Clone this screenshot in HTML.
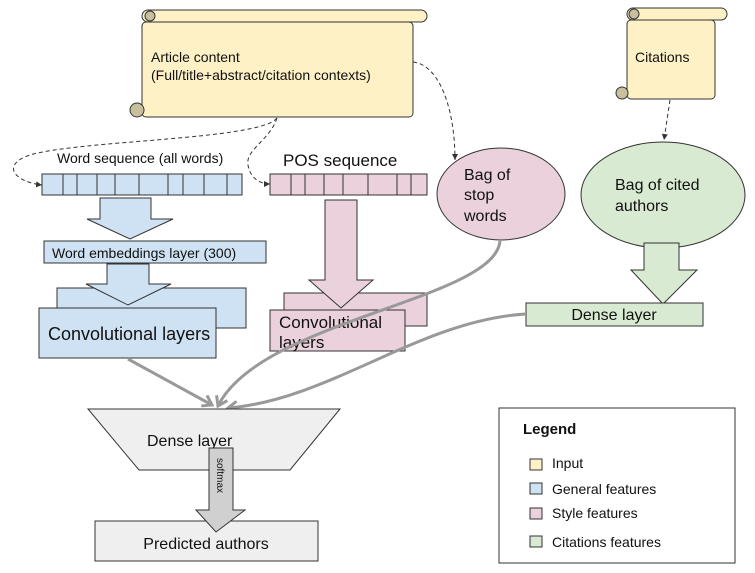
<!DOCTYPE html>
<html><head><meta charset="utf-8"><style>
body{margin:0;background:#fff;width:755px;height:568px;overflow:hidden}
svg text{font-family:"Liberation Sans",Arial,sans-serif;fill:#111}
</style></head><body>
<svg width="755" height="568" viewBox="0 0 755 568" xmlns="http://www.w3.org/2000/svg">
<defs>
<marker id="da" markerWidth="8" markerHeight="8" refX="6" refY="4" orient="auto" markerUnits="userSpaceOnUse"><path d="M0,1 L6,4 L0,7" fill="#333"/></marker>
<marker id="ga" markerWidth="14" markerHeight="14" refX="10" refY="7" orient="auto" markerUnits="userSpaceOnUse"><path d="M1,1 L10,7 L1,13" fill="none" stroke="#999" stroke-width="3"/></marker>
</defs>
<!-- Article scroll -->
<rect x="142" y="22" width="271" height="95" rx="4" fill="#fdf1c5" stroke="#333"/>
<rect x="142" y="10" width="285" height="12" rx="6" fill="#fdf1c5" stroke="#333"/>
<circle cx="150" cy="16" r="5" fill="#c8bf9d" stroke="#333"/>
<circle cx="137" cy="110" r="7" fill="#c8bf9d" stroke="#333"/>
<text x="151" y="62" font-size="14">Article content</text>
<text x="151" y="80" font-size="14">(Full/title+abstract/citation contexts)</text>
<!-- Citations scroll -->
<rect x="627" y="20" width="88" height="79" rx="4" fill="#fdf1c5" stroke="#333"/>
<rect x="627" y="8" width="100" height="12" rx="6" fill="#fdf1c5" stroke="#333"/>
<circle cx="634" cy="14" r="5" fill="#c8bf9d" stroke="#333"/>
<circle cx="622" cy="93" r="6" fill="#c8bf9d" stroke="#333"/>
<text x="635" y="62" font-size="14">Citations</text>
<!-- dashed -->
<g fill="none" stroke="#333" stroke-dasharray="4,3" stroke-width="1">
<path d="M277,118 C260,140 80,140 30,155 C0,165 15,182 42,185" marker-end="url(#da)"/>
<path d="M277,118 C270,140 245,150 248,165 C250,178 260,184 270,184" marker-end="url(#da)"/>
<path d="M413,62 C440,65 455,110 455,160" marker-end="url(#da)"/>
<path d="M670,100 L664,140" marker-end="url(#da)"/>
</g>
<!-- Word sequence -->
<text x="57" y="163" font-size="14">Word sequence (all words)</text>
<rect x="42" y="174" width="200" height="21" fill="#cfe2f3" stroke="#333"/>
<g stroke="#333"><line x1="63" y1="174" x2="63" y2="195"/><line x1="77" y1="174" x2="77" y2="195"/><line x1="97" y1="174" x2="97" y2="195"/><line x1="115" y1="174" x2="115" y2="195"/><line x1="139" y1="174" x2="139" y2="195"/><line x1="168" y1="174" x2="168" y2="195"/><line x1="183" y1="174" x2="183" y2="195"/><line x1="204" y1="174" x2="204" y2="195"/><line x1="227" y1="174" x2="227" y2="195"/></g>
<path d="M100,198 L151,198 L151,219 L173,219 L130,239 L87,219 L100,219 Z" fill="#cfe2f3" stroke="#333"/>
<rect x="44" y="241" width="222" height="22" fill="#cfe2f3" stroke="#333"/>
<text x="52" y="258" font-size="14">Word embeddings layer (300)</text>
<rect x="57" y="288" width="189" height="40" fill="#cfe2f3" stroke="#333"/>
<path d="M107,264 L149,264 L149,284 L171,284 L128,305 L86,284 L107,284 Z" fill="#cfe2f3" stroke="#333"/>
<rect x="39" y="308" width="177" height="50" fill="#cfe2f3" stroke="#333"/>
<text x="48" y="340" font-size="18">Convolutional layers</text>
<!-- POS -->
<text x="283" y="166" font-size="17">POS sequence</text>
<rect x="270" y="174" width="157" height="21" fill="#ead1dc" stroke="#333"/>
<g stroke="#333"><line x1="291" y1="174" x2="291" y2="195"/><line x1="305" y1="174" x2="305" y2="195"/><line x1="324" y1="174" x2="324" y2="195"/><line x1="343" y1="174" x2="343" y2="195"/><line x1="368" y1="174" x2="368" y2="195"/><line x1="397" y1="174" x2="397" y2="195"/><line x1="411" y1="174" x2="411" y2="195"/></g>
<rect x="284" y="293" width="143" height="33" fill="#ead1dc" stroke="#333"/>
<path d="M325,200 L357,200 L357,280 L373,280 L341,308 L309,280 L325,280 Z" fill="#ead1dc" stroke="#333"/>
<rect x="270" y="310" width="135" height="41" fill="#ead1dc" stroke="#333"/>
<text x="279" y="328" font-size="17">Convolutional</text>
<text x="279" y="348" font-size="17">layers</text>
<!-- stop words -->
<ellipse cx="501" cy="194" rx="64" ry="46" fill="#ead1dc" stroke="#333"/>
<text x="464" y="180" font-size="16">Bag of</text>
<text x="464" y="200" font-size="16">stop</text>
<text x="464" y="221" font-size="16">words</text>
<!-- cited -->
<ellipse cx="663" cy="195" rx="82" ry="53" fill="#d9ead3" stroke="#333"/>
<text x="615" y="190" font-size="16">Bag of cited</text>
<text x="615" y="211" font-size="16">authors</text>
<path d="M644,243 L679,243 L679,270 L697,270 L663,304 L631,270 L644,270 Z" fill="#d9ead3" stroke="#333"/>
<rect x="526" y="303" width="177" height="23" fill="#d9ead3" stroke="#333"/>
<text x="614" y="320" font-size="16" text-anchor="middle">Dense layer</text>
<!-- gray connectors -->
<g fill="none" stroke="#999" stroke-width="3">
<path d="M128,359 L212,405" marker-end="url(#ga)"/>
<path d="M500,241 C495,300 260,320 218,406" marker-end="url(#ga)"/>
<path d="M526,314 C420,320 330,400 228,408" marker-end="url(#ga)"/>
</g>
<!-- Dense trapezoid -->
<path d="M88,409 L340,409 L290,470 L139,470 Z" fill="#efefef" stroke="#333"/>
<text x="147" y="446" font-size="16">Dense layer</text>
<rect x="95" y="521" width="223" height="40" fill="#efefef" stroke="#333"/>
<text x="206" y="549" font-size="16" text-anchor="middle">Predicted authors</text>
<path d="M209,448 L233,448 L233,510 L245,510 L216,532 L196,510 L209,510 Z" fill="#d0d0d0" stroke="#333"/>
<text x="0" y="0" font-size="10" transform="translate(217,458) rotate(90)">softmax</text>
<!-- Legend -->
<rect x="499" y="408" width="236" height="155" fill="#fff" stroke="#333"/>
<text x="523" y="434" font-size="15" font-weight="bold">Legend</text>
<rect x="530" y="459" width="12" height="11" fill="#fdf1c5" stroke="#333"/>
<text x="552" y="468" font-size="14">Input</text>
<rect x="530" y="483" width="12" height="11" fill="#cfe2f3" stroke="#333"/>
<text x="552" y="494" font-size="14">General features</text>
<rect x="530" y="508" width="12" height="11" fill="#ead1dc" stroke="#333"/>
<text x="552" y="518" font-size="14">Style features</text>
<rect x="530" y="536" width="12" height="11" fill="#d9ead3" stroke="#333"/>
<text x="552" y="547" font-size="14">Citations features</text>
</svg>
</body></html>
